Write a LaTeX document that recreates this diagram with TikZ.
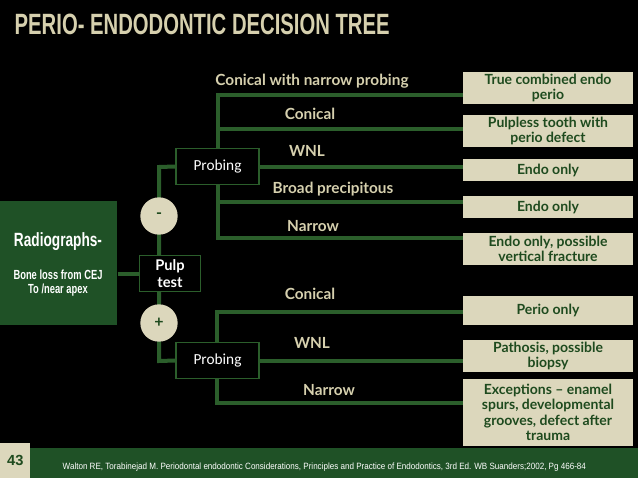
\documentclass[tikz,border=0pt]{standalone}
\usepackage{fontspec}
\setmainfont{Lato}
\newfontfamily\calfnt{Carlito}
\newfontfamily\impfnt{Liberation Sans}
\definecolor{gr}{HTML}{2B5E2B}
\definecolor{gbox}{HTML}{1F5126}
\definecolor{beige}{HTML}{DCD7BC}
\definecolor{lab}{HTML}{D6D0AE}
\definecolor{dg}{HTML}{1E4A1E}
\begin{document}
\begin{tikzpicture}[x=0.75pt,y=-0.75pt,
  ln/.style={draw=gr,line width=3pt},
  res/.style={fill=beige,draw=none,text=dg,font=\bfseries\fontsize{10.5}{11.5}\selectfont,align=center,minimum width=127.5pt,inner sep=1pt},
  lbl/.style={text=lab,font=\bfseries\fontsize{11.5}{12}\selectfont,anchor=base},
  pb/.style={fill=black,draw=gr,line width=1.2pt,text=white,font=\calfnt\fontsize{11.5}{12}\selectfont,minimum width=62pt,minimum height=27pt},
  sign/.style={circle,fill=beige,minimum size=28pt,inner sep=0pt,text=dg,font=\bfseries\fontsize{12}{12}\selectfont}]
\fill[black] (0,0) rectangle (638,478);
\useasboundingbox (0,0) rectangle (638,478);
\node[anchor=west,text=lab,font=\impfnt\bfseries\fontsize{20}{20}\selectfont] (title) at (10,24) {\scalebox{0.76}[1.1]{PERIO- ENDODONTIC DECISION TREE}};
% left box
\node[fill=gbox,minimum width=87.75pt,minimum height=93pt,anchor=north west,inner sep=0pt] (rad) at (0,201) {};
\node[text=white,font=\impfnt\bfseries\fontsize{12.5}{13}\selectfont] (radt) at (58,242) {\scalebox{0.82}[1.15]{Radiographs-}};
\node[text=white,font=\impfnt\bfseries\fontsize{9}{11}\selectfont,align=center] (radb) at (58,283) {\scalebox{0.78}[1.1]{Bone loss from CEJ}\\\scalebox{0.78}[1.1]{To /near apex}};
% spine
\coordinate (top) at (159,167);
\coordinate (bot) at (159,361);
\node[pb] (p1) at (217.5,166.5) {Probing};
\node[pb] (p2) at (217.5,360.5) {Probing};
\draw[ln] (p1.west) -- (top) -- (bot) -- (p2.west);
\node[fill=black,draw=gr,line width=1.2pt,text=white,font=\bfseries\fontsize{11}{12.5}\selectfont,minimum width=46pt,minimum height=27pt,inner sep=0pt,align=center] (pulp) at (170,273.5) {Pulp\\test};
\draw[ln] (rad.east|-pulp) -- (pulp.west);
\node[sign] (minus) at (159,216) {-};
\node[sign] (plus) at (159,323) {+};
% result boxes
\node[res,minimum height=24pt] (r1) at (548,88) {True combined endo\\perio};
\node[res,minimum height=24pt] (r2) at (548,131) {Pulpless tooth with\\perio defect};
\node[res,minimum height=16.5pt] (r3) at (548,170) {Endo only};
\node[res,minimum height=16.5pt] (r4) at (548,207) {Endo only};
\node[res,minimum height=24pt] (r5) at (548,249) {Endo only, possible\\vertical fracture};
\node[res,minimum height=21.75pt] (r6) at (548,310.5) {Perio only};
\node[res,minimum height=24pt] (r7) at (548,356) {Pathosis, possible\\biopsy};
\node[res,minimum height=50pt] (r8) at (548,412.5) {Exceptions -- enamel\\spurs, developmental\\grooves, defect after\\trauma};
% top tree
\coordinate (t1) at (218,95); \coordinate (t2) at (218,129);
\coordinate (t4) at (218,202); \coordinate (t5) at (218,238);
\draw[ln] (p1.north-|t1) -- (t1) -- (r1.west|-t1);
\draw[ln] (t2) -- (r2.west|-t2);
\draw[ln] (p1.east) -- (r3.west|-p1.east);
\draw[ln] (p1.south-|t1) -- (t5) -- (r5.west|-t5);
\draw[ln] (t4) -- (r4.west|-t4);
% bottom tree
\coordinate (b1) at (217,312); \coordinate (b3) at (217,403);
\draw[ln] (p2.north-|b1) -- (b1) -- (r6.west|-b1);
\draw[ln] (p2.east) -- (r7.west|-p2.east);
\draw[ln] (p2.south-|b1) -- (b3) -- (r8.west|-b3);
% labels
\node[lbl] (l1) at (312,85) {Conical with narrow probing};
\node[lbl] (l2) at (310,119) {Conical};
\node[lbl] (l3) at (307,156) {WNL};
\node[lbl] (l4) at (333,193) {Broad precipitous};
\node[lbl] (l5) at (313,231) {Narrow};
\node[lbl] (l6) at (310,299) {Conical};
\node[lbl] (l7) at (312,348) {WNL};
\node[lbl] (l8) at (329,395) {Narrow};
% footer
\fill[gbox] (30,448) rectangle (638,478);
\node[fill=beige,minimum width=22.5pt,minimum height=26pt,anchor=north west,inner sep=0pt,text=dg,font=\impfnt\bfseries\fontsize{11}{12}\selectfont] (num) at (0,443) {43};
\node[anchor=west,text=white,font=\impfnt\fontsize{6.5}{7}\selectfont] (ref) at (58,467) {\scalebox{0.93}[1.05]{Walton RE, Torabinejad M. Periodontal endodontic Considerations, Principles and Practice of Endodontics, 3rd Ed. WB Suanders;2002, Pg 466-84}};
\end{tikzpicture}
\end{document}
